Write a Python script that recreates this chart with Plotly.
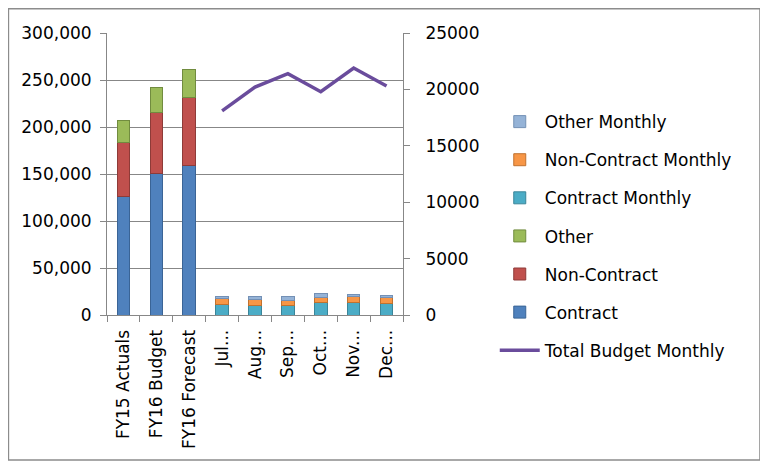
import plotly.graph_objects as go

# categories on the shared x axis
annual_labels = ["FY15 Actuals", "FY16 Budget", "FY16 Forecast"]
month_labels = ["Jul...", "Aug...", "Sep...", "Oct...", "Nov...", "Dec..."]

# annual stacks (left axis)
contract = [126600, 150700, 158800]
non_contract = [56700, 64200, 72800]
other = [23100, 26600, 29800]

# monthly stacks (left axis)
contract_monthly = [11700, 10600, 9900, 13500, 13100, 12400]
non_contract_monthly = [6000, 6000, 6000, 5300, 7100, 6000]
other_monthly = [1800, 2800, 3500, 3900, 1100, 2800]

# monthly budget line (right axis)
total_budget_monthly = [18100, 20200, 21400, 19800, 21900, 20300]

left_ticks = [0, 50000, 100000, 150000, 200000, 250000, 300000]
right_ticks = [0, 5000, 10000, 15000, 20000, 25000]

FONT = "DejaVu Sans"
GRID = "#878787"

fig = go.Figure()


def add_bar(x, y, name, color, edge, rank):
    fig.add_trace(go.Bar(x=x, y=y, name=name, legendrank=rank, legendgroup=name,
                         marker=dict(color=color, line=dict(color=edge, width=1))))


add_bar(annual_labels, contract, "Contract", "#4F81BD", "#3A6496", 6)
add_bar(annual_labels, non_contract, "Non-Contract", "#C0504D", "#8E3B38", 5)
add_bar(annual_labels, other, "Other", "#9BBB59", "#718C3F", 4)
add_bar(month_labels, contract_monthly, "Contract Monthly", "#4BACC6", "#3A8599", 3)
add_bar(month_labels, non_contract_monthly, "Non-Contract Monthly", "#F79646", "#C0722F", 2)
add_bar(month_labels, other_monthly, "Other Monthly", "#95B3D7", "#7390B5", 1)

fig.add_trace(go.Scatter(x=month_labels, y=total_budget_monthly, name="Total Budget Monthly",
                         legendrank=7, legendgroup="Total Budget Monthly",
                         mode="lines", yaxis="y2", line=dict(color="#6A4C9C", width=3.5)))

# page body adds 8px, so margins are 8px smaller than the target positions
fig.update_layout(
    width=768, height=469,
    margin=dict(l=99, r=373, t=25, b=162),
    paper_bgcolor="white", plot_bgcolor="white",
    font=dict(family=FONT, size=17, color="black"),
    barmode="stack", bargap=0.62,
    showlegend=True,
    legend=dict(x=1.31, y=0.748, xanchor="left", yanchor="top", traceorder="grouped",
                tracegroupgap=13, itemwidth=40, font=dict(family=FONT, size=17, color="black")),
    xaxis=dict(type="category", categoryorder="array", categoryarray=annual_labels + month_labels,
               tickangle=-90, showline=True, linecolor=GRID, linewidth=1,
               ticks="outside", tickson="boundaries", ticklen=6, tickcolor=GRID,
               showgrid=False, zeroline=False, ticklabelstandoff=7),
    yaxis=dict(range=[0, 300000], tickvals=left_ticks, tickformat=",", showline=True,
               linecolor=GRID, linewidth=1, ticks="outside", ticklen=6, tickcolor=GRID,
               showgrid=True, gridcolor=GRID, gridwidth=1, zeroline=False, ticklabelstandoff=5),
    yaxis2=dict(range=[0, 25000], tickvals=right_ticks, tickformat="d", overlaying="y",
                side="right", showline=True, linecolor=GRID, linewidth=1, ticks="outside",
                ticklen=6, tickcolor=GRID, showgrid=False, zeroline=False, ticklabelstandoff=12),
)

# outer chart border like the Excel chart area
fig.add_shape(type="rect", xref="paper", yref="paper", x0=-0.333, x1=2.206, y0=-0.514, y1=1.086,
              line=dict(color="#8C8C8C", width=1.5), fillcolor="rgba(0,0,0,0)", layer="below")

fig.write_html("out.html")
